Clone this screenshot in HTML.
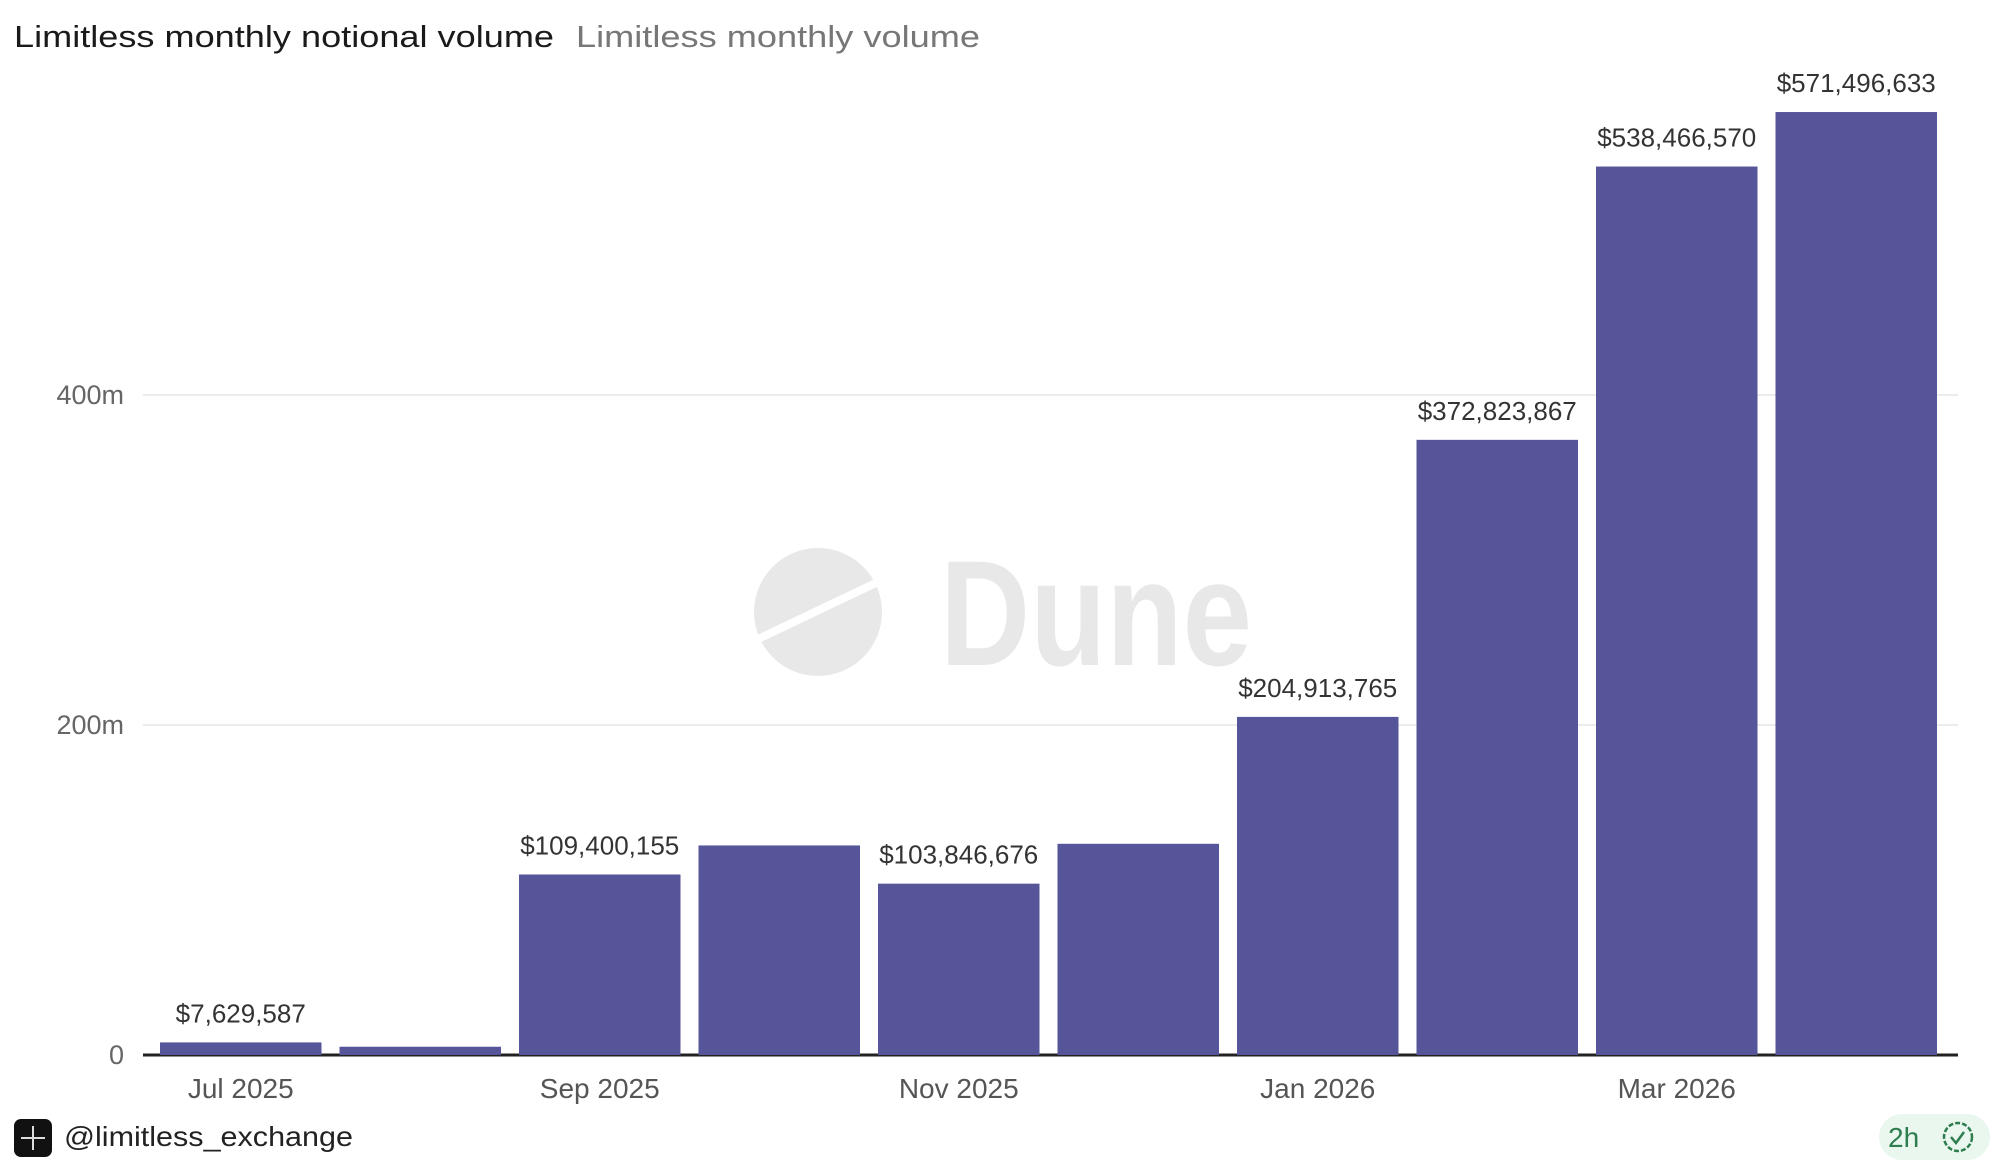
<!DOCTYPE html>
<html><head><meta charset="utf-8"><style>
html,body{margin:0;padding:0;background:#fff;}
svg{display:block;font-family:"Liberation Sans",sans-serif;}
</style></head><body>
<svg id="chart" width="2000" height="1175" viewBox="0 0 2000 1175">
  <text x="14" y="47" font-size="31" fill="#1a1a1a" textLength="540" lengthAdjust="spacingAndGlyphs">Limitless monthly notional volume</text>
  <text x="576" y="47" font-size="31" fill="#777" textLength="404" lengthAdjust="spacingAndGlyphs">Limitless monthly volume</text>
  <g>
    <circle cx="818" cy="612" r="64" fill="#e8e8e8"/>
    <path d="M756 640 L882 580" stroke="#fff" stroke-width="8"/>
    <text x="940" y="665" font-size="150" font-weight="bold" fill="#e8e8e8" textLength="312" lengthAdjust="spacingAndGlyphs">Dune</text>
  </g>
  <g id="grid"></g>
  <g id="bars"></g>
  <g id="xlabels"></g>
  <g>
    <rect x="14" y="1119" width="38" height="38" rx="7" fill="#111"/>
    <path d="M33 1126 V1150 M21 1138 H45" stroke="#ddd" stroke-width="2"/>
    <text x="64" y="1146" font-size="28" fill="#222" textLength="289" lengthAdjust="spacingAndGlyphs">@limitless_exchange</text>
  </g>
  <g>
    <rect x="1879" y="1114" width="111" height="46" rx="23" fill="#eaf7ee"/>
    <text x="1888" y="1147" font-size="28" fill="#2e7d4f">2h</text>
    <circle cx="1958" cy="1137" r="14" fill="none" stroke="#2e7d4f" stroke-width="2.5" stroke-dasharray="5 2"/>
    <path d="M1951 1137 l5 6 l8 -11" fill="none" stroke="#2e7d4f" stroke-width="2.5"/>
  </g>
</svg>
<script>
const categories = ["Jul 2025","Aug 2025","Sep 2025","Oct 2025","Nov 2025","Dec 2025","Jan 2026","Feb 2026","Mar 2026","Apr 2026"];
const values = [7629587, 5000000, 109400155, 127000000, 103846676, 128000000, 204913765, 372823867, 538466570, 571496633];
const valueLabels = ["$7,629,587","","$109,400,155","","$103,846,676","","$204,913,765","$372,823,867","$538,466,570","$571,496,633"];
const yTicks = [0, 200000000, 400000000];
const yTickLabels = ["0","200m","400m"];
const xTickLabels = ["Jul 2025","","Sep 2025","","Nov 2025","","Jan 2026","","Mar 2026",""];

const NS = "http://www.w3.org/2000/svg";
const y0 = 1055, pxPerUnit = 330/200000000;
const x0 = 160, pitch = 179.5, bw = 161.5;
function yScale(v){ return y0 - v*pxPerUnit; }
function xScale(i){ return x0 + i*pitch; }
function mk(tag, attrs, parent){ const e=document.createElementNS(NS,tag); for(const k in attrs) e.setAttribute(k,attrs[k]); parent.appendChild(e); return e; }

const grid = document.getElementById('grid');
yTicks.forEach((t,i)=>{
  const y = yScale(t);
  if(t!==0){
    const l = mk('line',{x1:143,x2:1958,y1:y,y2:y,stroke:'#ececec','stroke-width':2},grid);
    
    
  }
  const tx = mk('text',{x:124,y:y+9,'font-size':27,fill:'#666','text-anchor':'end'},grid);
  tx.textContent = yTickLabels[i];
  
  
});
const axis = mk('line',{x1:143,x2:1958,y1:y0,y2:y0,stroke:'#222','stroke-width':3},grid);



const bars = document.getElementById('bars');
values.forEach((v,i)=>{
  const x = xScale(i), y = yScale(v);
  const r = mk('rect',{x:x,y:y,width:bw,height:y0-y,fill:'#56559a'},bars);
  
  
  if(valueLabels[i]){
    const t = mk('text',{x:x+bw/2,y:y-20,'font-size':26,fill:'#333','text-anchor':'middle'},bars);
    t.textContent = valueLabels[i];
    
    
  }
});
const xl = document.getElementById('xlabels');
xTickLabels.forEach((s,i)=>{
  if(!s) return;
  const t = mk('text',{x:xScale(i)+bw/2,y:1098,'font-size':28,fill:'#555','text-anchor':'middle'},xl);
  t.textContent = s;
  
  
});
</script>
</body></html>
